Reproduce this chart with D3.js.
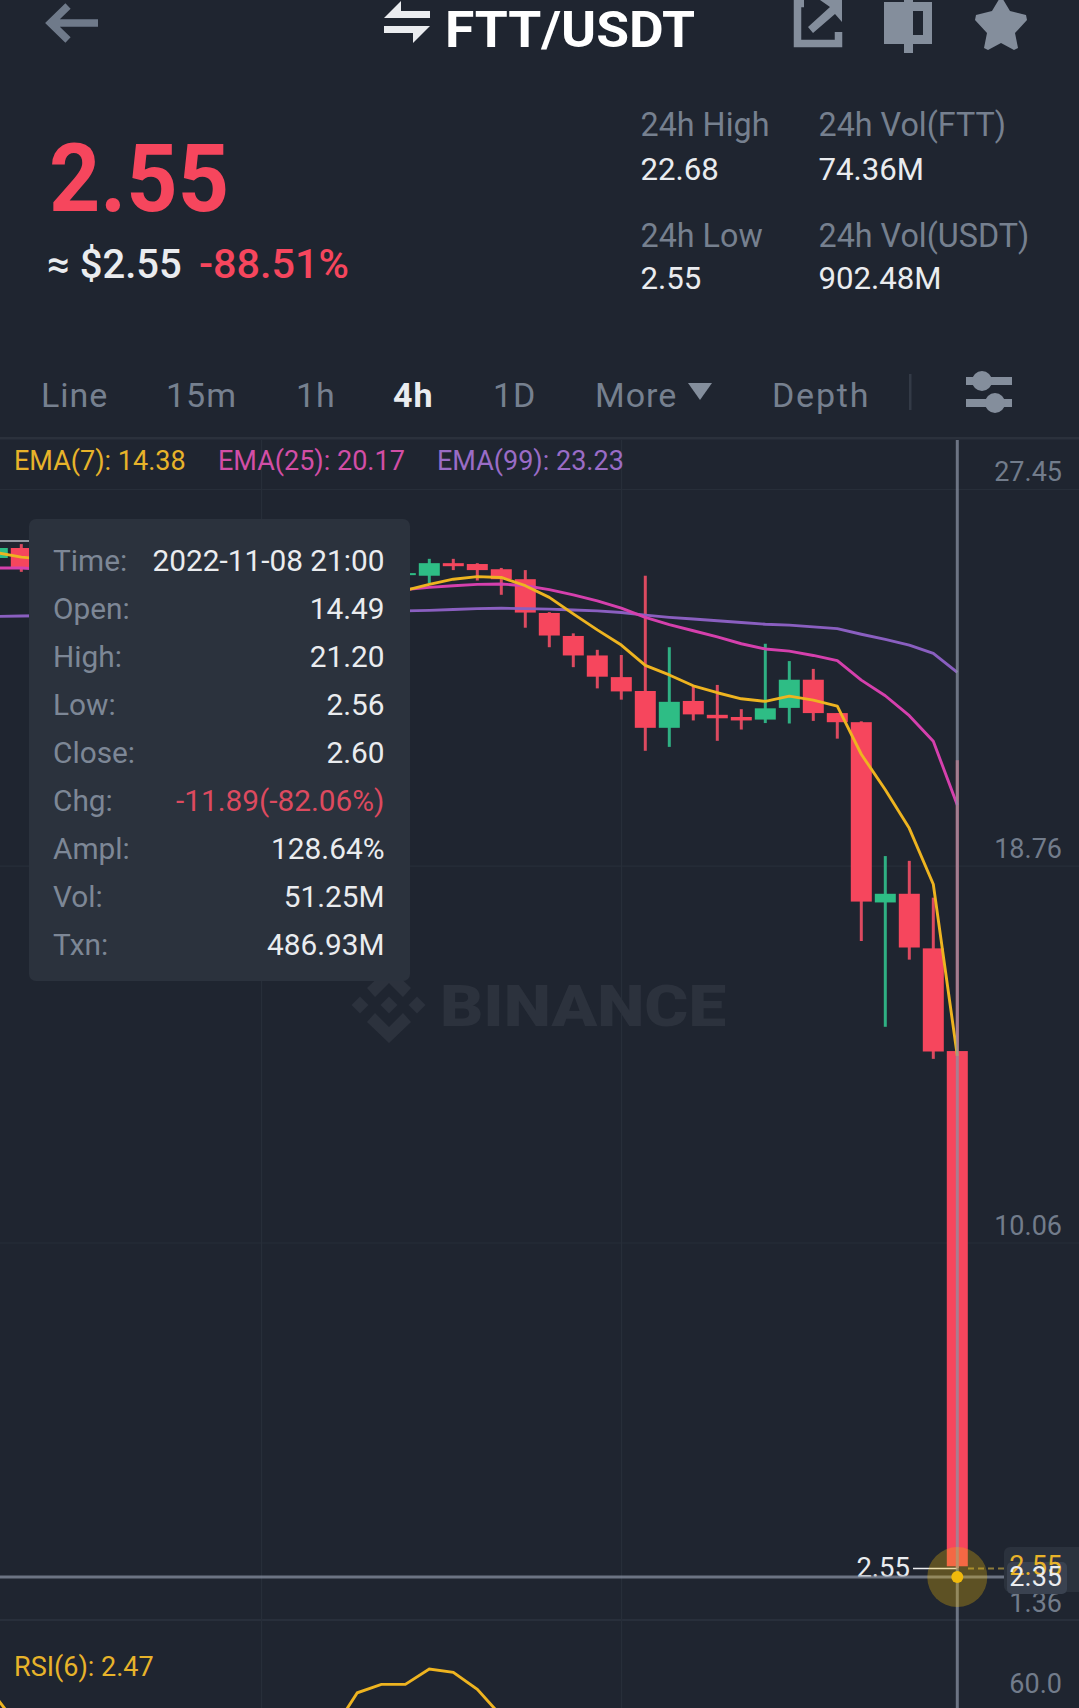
<!DOCTYPE html>
<html><head><meta charset="utf-8">
<style>html,body{margin:0;padding:0;background:#1f2530;overflow:hidden}svg{display:block}text{font-family:Roboto,sans-serif}</style>
<script src="https://cdn.jsdelivr.net/npm/d3@7/dist/d3.min.js"></script>
</head><body><svg id="c" width="1079" height="1708"></svg>
<script>
// ---- data ----
const slots =  [0,1,17,18,19,20,21,22,23,24,25,26,27,28,29,30,31,32,33,34,35,36,37,38,39,40];
const opens =  [25.87,26.10,25.48,25.46,25.75,25.73,25.61,25.38,24.60,24.07,23.62,23.12,22.80,21.95,22.57,22.25,22.20,22.14,22.41,23.06,22.29,22.08,17.92,18.12,16.86,14.49];
const highs =  [26.15,26.19,25.52,25.85,25.85,25.75,25.64,25.59,24.62,24.13,23.75,23.63,25.46,23.81,22.92,22.94,22.38,23.89,23.49,23.31,22.29,22.10,18.99,18.88,18.03,21.20];
const lows =   [25.80,25.55,25.48,25.29,25.59,25.35,25.02,24.26,23.81,23.35,22.86,22.60,21.42,21.51,22.12,21.65,21.91,22.06,22.05,22.11,21.70,17.03,15.05,16.60,14.31,2.56];
const closes = [26.10,25.64,25.52,25.75,25.68,25.59,25.38,24.61,24.08,23.62,23.13,22.79,21.95,22.55,22.26,22.17,22.12,22.40,23.06,22.29,22.08,17.94,18.12,16.88,14.48,2.60];
const ema7 =   [25.99,25.89,25.12,25.26,25.38,25.44,25.42,25.23,24.96,24.58,24.21,23.86,23.39,23.17,22.92,22.76,22.62,22.56,22.68,22.59,22.45,21.34,20.52,19.63,18.34,14.38];
const ema25 =  [25.64,25.64,25.14,25.19,25.23,25.26,25.27,25.23,25.14,25.02,24.88,24.71,24.50,24.33,24.19,24.05,23.89,23.77,23.72,23.62,23.50,23.05,22.69,22.23,21.64,20.17];
const ema99 =  [24.52,24.53,24.65,24.66,24.68,24.70,24.71,24.70,24.69,24.67,24.65,24.61,24.55,24.50,24.46,24.42,24.38,24.34,24.32,24.28,24.24,24.11,23.99,23.86,23.67,23.23];
const rsiSlots = [0,1,14,15,16,17,18,19,20,21];
const rsi6 =     [61.0,45.9,45.9,64.0,68.1,68.1,75.6,74.0,65.7,52.7];
const priceTicks = [27.45,18.76,10.06,1.36];
const rsiTicks = [60.0];
const lastPrice = 2.55, crossPrice = 2.35;
const tipLabels = ["Time:","Open:","High:","Low:","Close:","Chg:","Ampl:","Vol:","Txn:"];
const tipValues = ["2022-11-08 21:00","14.49","21.20","2.56","2.60","-11.89(-82.06%)","128.64%","51.25M","486.93M"];
const tabs = ["Line","15m","1h","4h","1D","More","Depth"];
const statsLabels = ["24h High","24h Vol(FTT)","24h Low","24h Vol(USDT)"];
const statsValues = ["22.68","74.36M","2.55","902.48M"];

// ---- layout ----
const RED="#f6465d", GREEN="#2ebd85", GREY="#848e9c", WHITE="#eaecef", YEL="#f0b90b";
const svg=d3.select("#c");
const x=d3.scaleLinear().domain([0,40]).range([-2.7,957.3]);
const y=d3.scaleLinear().domain([1.36,27.45]).range([1620,489.5]);
const yr=d3.scaleLinear().domain([60,75.6]).range([1701,1669]);
const txt=(s,px,py,size,fill,weight,anchor,g)=>(g||svg).append("text").attr("x",px).attr("y",py)
  .attr("font-size",size).attr("fill",fill).attr("font-weight",weight||400).attr("text-anchor",anchor||"start").text(s);

// header
const ic="#848e9c";
svg.append("path").attr("d","M98 23H52M68 6 50.5 23 68 40").attr("fill","none").attr("stroke","#6f7a8a").attr("stroke-width",7.5);
svg.append("path").attr("d","M384 18 401 1V11H430V18ZM430 26 413 43V33H384V26Z").attr("fill",WHITE);
txt("FTT/USDT",445,46.5,50,"#fff",700).attr("textLength",250).attr("lengthAdjust","spacingAndGlyphs");
svg.append("path").attr("d","M804 3.5H797.5V43.5H838.5V32").attr("fill","none").attr("stroke",ic).attr("stroke-width",7.5);
svg.append("path").attr("d","M820 0H842V22L835 14 813 33 808 27 830 7Z").attr("fill",ic);
svg.append("path").attr("fill-rule","evenodd").attr("d","M884 2H904V-2H913V2H932V44H913V53H904V44H884ZM913 11V35H923V11Z").attr("fill",ic);
svg.append("path").attr("d","M1001 -4 1010 11 1026 15 1027 20 1015 33 1018 48 1014 50 1001 43 988 50 984 48 987 33 975 20 976 15 992 11Z").attr("fill",ic);

txt("2.55",49,211,94,RED,700).attr("textLength",180).attr("lengthAdjust","spacingAndGlyphs");
txt("≈ $2.55",47,278,40,WHITE,500);
txt("-88.51%",199,278,40,RED,500).attr("textLength",150).attr("lengthAdjust","spacingAndGlyphs");
const sx=[640.5,818.5,640.5,818.5], syL=[136,136,247,247], syV=[180,180,289,289];
statsLabels.forEach((s,i)=>txt(s,sx[i],syL[i],32.3,"#76808f"));
statsValues.forEach((s,i)=>txt(s,sx[i],syV[i],31.2,WHITE));

// tabs
const tabX=[41,166,296,393,493,595,772];
tabs.forEach((t,i)=>txt(t,tabX[i],407,34,t==="4h"?WHITE:"#76808f",t==="4h"?700:400).style("letter-spacing",t==="Depth"?"1.8px":"1px"));
svg.append("path").attr("d","M688 383H712L700 400Z").attr("fill",ic);
svg.append("rect").attr("x",909).attr("y",374).attr("width",2.5).attr("height",36).attr("fill","#333a46");
svg.append("rect").attr("x",966).attr("y",377).attr("width",46).attr("height",8).attr("fill",ic);
svg.append("circle").attr("cx",982).attr("cy",381).attr("r",10).attr("fill",ic);
svg.append("rect").attr("x",966).attr("y",399).attr("width",46).attr("height",8).attr("fill",ic);
svg.append("circle").attr("cx",995).attr("cy",403).attr("r",10).attr("fill",ic);
svg.append("rect").attr("x",0).attr("y",437).attr("width",1079).attr("height",2.5).attr("fill","#2b313c");

// grid
const grid=svg.append("g");
grid.selectAll("line.h").data(priceTicks).join("line").attr("class","h").attr("x1",0).attr("x2",1079)
  .attr("y1",d=>y(d)).attr("y2",d=>y(d)).attr("stroke",d=>d===1.36?"#333a46":"#272e39").attr("stroke-width",1.2);
grid.selectAll("line.v").data([11,26]).join("line").attr("class","v").attr("x1",d=>x(d)+.3).attr("x2",d=>x(d)+.3)
  .attr("y1",440).attr("y2",1708).attr("stroke","#272e39").attr("stroke-width",1.2);

// watermark
const wm=svg.append("g").attr("fill","#2c323d");
const wmDia=[[389,1005],[360,1005],[417,1005]];
wm.selectAll("path.d").data(wmDia).join("path").attr("class","d").attr("d",d=>`M${d[0]-8.5} ${d[1]}L${d[0]} ${d[1]-8.5}L${d[0]+8.5} ${d[1]}L${d[0]} ${d[1]+8.5}Z`);
wm.append("path").attr("d","M367 1022 389 1043 411 1022 403 1013 389 1027 375 1013Z");
wm.append("path").attr("d","M367 988 389 967 411 988 403 997 389 983 375 997Z");
wm.append("text").attr("x",440).attr("y",1026).attr("font-size",58).attr("font-weight",900).attr("textLength",286).attr("lengthAdjust","spacingAndGlyphs").text("BINANCE");

// candles
const bw=x(1)-x(0)-3;
const rows=slots.map((s,i)=>({s,o:opens[i],h:highs[i],l:lows[i],c:closes[i]}));
const colBody=d=>d.c>=d.o?GREEN:RED, colWick=d=>d.c>=d.o?"#2fb083":"#dc4a60";
const cg=svg.append("g");
cg.selectAll("line").data(rows).join("line").attr("x1",d=>x(d.s)).attr("x2",d=>x(d.s))
  .attr("y1",d=>y(d.h)).attr("y2",d=>y(d.l)).attr("stroke",colWick).attr("stroke-width",3);
cg.selectAll("rect").data(rows).join("rect").attr("x",d=>x(d.s)-bw/2).attr("width",bw)
  .attr("y",d=>y(Math.max(d.o,d.c))).attr("height",d=>Math.max(2,Math.abs(y(d.o)-y(d.c)))).attr("fill",colBody);

// EMA lines
const ln=d3.line().x(d=>x(d[0])).y(d=>y(d[1]));
[[ema99,"#8a5fc0"],[ema25,"#d540ad"],[ema7,"#eeb420"]].forEach(([a,col])=>{
  svg.append("path").attr("d",ln(slots.map((s,i)=>[s,a[i]]))).attr("fill","none").attr("stroke",col).attr("stroke-width",2.9).attr("stroke-linejoin","round");
});

// RSI
const rl=d3.line().x(d=>x(d[0])).y(d=>yr(d[1]));
svg.append("path").attr("d",rl(rsiSlots.map((s,i)=>[s,rsi6[i]]))).attr("fill","none").attr("stroke","#eeb420").attr("stroke-width",2.9);
txt("RSI(6): 2.47",14,1676,27,"#e7b32a");

// legend
txt("EMA(7): 14.38",14,470,27,"#e7b32a");
txt("EMA(25): 20.17",218,470,27,"#d24ea6");
txt("EMA(99): 23.23",437,470,27,"#9a6cc6");

// axes labels
const axG=svg.append("g").attr("transform","translate(1062,0)")
  .call(d3.axisLeft(y).tickValues(priceTicks).tickSize(0).tickPadding(0).tickFormat(d3.format(".2f")));
axG.select(".domain").remove();
axG.selectAll("text").attr("font-family","Roboto,sans-serif").attr("font-size",27).attr("fill","#727c8b").attr("dy",-9).attr("y",0);
const axR=svg.append("g").attr("transform","translate(1062,0)")
  .call(d3.axisLeft(yr).tickValues(rsiTicks).tickSize(0).tickPadding(0).tickFormat(d3.format(".1f")));
axR.select(".domain").remove();
axR.selectAll("text").attr("font-family","Roboto,sans-serif").attr("font-size",27).attr("fill","#727c8b").attr("dy",-9).attr("y",0);

// last price line and labels
const yLast=y(lastPrice), yCross=y(crossPrice), xLast=x(40);
svg.append("line").attr("x1",968).attr("x2",1004).attr("y1",yLast).attr("y2",yLast).attr("stroke","#8c7a3a").attr("stroke-width",2).attr("stroke-dasharray","6 4");
svg.append("line").attr("x1",913).attr("x2",xLast).attr("y1",yLast).attr("y2",yLast).attr("stroke",WHITE).attr("stroke-width",1.6);
txt("2.55",910,1577,27.5,WHITE,400,"end");

// crosshair
svg.append("line").attr("x1",xLast).attr("x2",xLast).attr("y1",440).attr("y2",1708).attr("stroke","#8a93a3").attr("stroke-opacity",.72).attr("stroke-width",3);
svg.append("line").attr("x1",0).attr("x2",1006).attr("y1",yCross).attr("y2",yCross).attr("stroke","#8a93a3").attr("stroke-opacity",.72).attr("stroke-width",3);
svg.append("circle").attr("cx",xLast).attr("cy",yCross).attr("r",30).attr("fill",YEL).attr("fill-opacity",.3);
svg.append("circle").attr("cx",xLast).attr("cy",yCross).attr("r",6).attr("fill",YEL);

// price tags
svg.append("rect").attr("x",1004).attr("y",1547).attr("width",80).attr("height",45).attr("rx",6).attr("fill","#2b323d");
svg.append("rect").attr("x",1007).attr("y",1562).attr("width",60).attr("height",32).attr("rx",5).attr("fill","#3a4250");
txt("2.55",1062,1575,27,"#e7b32a",400,"end");
txt("2.35",1062,1586,27,WHITE,400,"end");

// white high-price marker at the left edge
svg.append("line").attr("x1",0).attr("x2",29).attr("y1",541).attr("y2",541).attr("stroke","#aeb4bd").attr("stroke-width",1.6);

// tooltip
svg.append("rect").attr("x",29).attr("y",519).attr("width",381).attr("height",462).attr("rx",7).attr("fill","#2b323d");
const baseY=d3.scaleLinear().domain([0,8]).range([571,955]);
tipLabels.forEach((s,i)=>txt(s,53,baseY(i),29.8,"#7d8796"));
tipValues.forEach((s,i)=>txt(s,384.5,baseY(i),29.8,i===5?"#dd4a5f":WHITE,400,"end"));
</script></body></html>
